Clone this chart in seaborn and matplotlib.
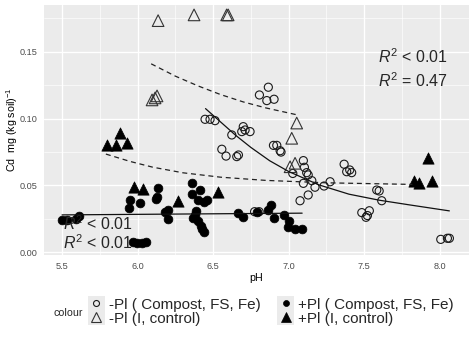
import numpy as np
import pandas as pd
import matplotlib
matplotlib.use("Agg")
import matplotlib.pyplot as plt
import seaborn as sns
from matplotlib.lines import Line2D
from matplotlib.patches import Rectangle

# ---------------- data ----------------
ph_minus_compost = [6.447, 6.480, 6.513, 6.624, 6.558, 6.586, 6.657, 6.668, 6.700, 6.690,
                    6.712, 6.745, 6.866, 6.807, 6.856, 6.904, 6.900, 6.922, 6.944, 6.950,
                    7.098, 7.105, 7.120, 7.130, 7.028, 7.098, 7.154, 7.175, 7.130, 7.076,
                    7.235, 7.275, 7.368, 7.385, 7.405, 7.418, 7.584, 7.600, 7.617, 7.485,
                    7.513, 7.535, 7.522, 8.008, 8.052, 8.065, 6.775, 6.805]
cd_minus_compost = [0.0995, 0.0995, 0.0985, 0.0878, 0.0771, 0.0720, 0.0716, 0.0728, 0.0940, 0.0903,
                    0.0915, 0.0903, 0.1235, 0.1177, 0.1135, 0.1145, 0.0800, 0.0800, 0.0760, 0.0750,
                    0.0686, 0.0636, 0.0596, 0.0579, 0.0590, 0.0516, 0.0536, 0.0487, 0.0429, 0.0386,
                    0.0496, 0.0528, 0.0659, 0.0603, 0.0616, 0.0596, 0.0466, 0.0459, 0.0386, 0.0297,
                    0.0262, 0.0311, 0.0275, 0.0097, 0.0105, 0.0105, 0.0304, 0.0304]

ph_minus_control = [6.136, 6.374, 6.590, 6.600, 6.096, 6.116, 6.129, 7.054, 7.021, 7.010, 7.043]
cd_minus_control = [0.1733, 0.1776, 0.1776, 0.1776, 0.1140, 0.1155, 0.1170, 0.0967, 0.0853, 0.0640, 0.0666]

ph_plus_compost = [5.500, 5.530, 5.590, 5.610, 5.950, 5.944, 6.017, 6.127, 6.138, 6.120,
                   5.972, 5.999, 6.028, 6.054, 6.182, 6.204, 6.204, 6.359, 6.414, 6.359,
                   6.400, 6.460, 6.440, 6.388, 6.368, 6.400, 6.421, 6.440, 6.430, 6.380,
                   6.663, 6.700, 6.790, 6.866, 6.884, 6.906, 6.972, 7.003, 6.994, 7.043, 7.091]
cd_plus_compost = [0.0240, 0.0240, 0.0250, 0.0270, 0.0390, 0.0330, 0.0367, 0.0416, 0.0479, 0.0397,
                   0.0079, 0.0070, 0.0070, 0.0080, 0.0304, 0.0317, 0.0247, 0.0516, 0.0466, 0.0439,
                   0.0390, 0.0390, 0.0377, 0.0310, 0.0257, 0.0234, 0.0197, 0.0151, 0.0175, 0.0280,
                   0.0297, 0.0267, 0.0300, 0.0317, 0.0354, 0.0254, 0.0279, 0.0237, 0.0187, 0.0172, 0.0172]

ph_plus_control = [5.884, 5.796, 5.858, 5.928, 5.977, 6.034, 6.270, 6.535, 7.926, 7.830, 7.866, 7.948]
cd_plus_control = [0.0895, 0.0803, 0.0803, 0.0816, 0.0491, 0.0472, 0.0386, 0.0454, 0.0703, 0.0536, 0.0521, 0.0534]

# fitted curves
fit_minus_compost_ph = [6.45, 6.55, 6.65, 6.75, 6.875, 7.0, 7.2, 7.4, 7.6, 7.8, 8.065]
fit_minus_compost_cd = [0.1075, 0.0975, 0.0875, 0.0785, 0.0685, 0.0605, 0.0505, 0.0435, 0.039, 0.0355, 0.031]
fit_minus_control_ph = [6.09, 6.25, 6.40, 6.55, 6.70, 6.85, 7.05]
fit_minus_control_cd = [0.1410, 0.1318, 0.1245, 0.1180, 0.1125, 0.1080, 0.1030]
fit_plus_compost_ph = [5.50, 7.09]
fit_plus_compost_cd = [0.0280, 0.0293]
fit_plus_control_ph = [5.79, 5.95, 6.10, 6.30, 6.55, 6.85, 7.25, 7.82]
fit_plus_control_cd = [0.0735, 0.0680, 0.0637, 0.0595, 0.0562, 0.0538, 0.0520, 0.0508]

labels = ["-Pl ( Compost, FS, Fe)", "-Pl (I, control)",
          "+Pl ( Compost, FS, Fe)", "+Pl (I, control)"]
x_ticks = [5.5, 6.0, 6.5, 7.0, 7.5, 8.0]
x_ticklabels = ["5.5", "6.0", "6.5", "7.0", "7.5", "8.0"]
y_ticks = [0.00, 0.05, 0.10, 0.15]
y_ticklabels = ["0.00", "0.05", "0.10", "0.15"]

df = pd.concat([
    pd.DataFrame({"pH": ph_minus_compost, "Cd": cd_minus_compost, "colour": labels[0]}),
    pd.DataFrame({"pH": ph_minus_control, "Cd": cd_minus_control, "colour": labels[1]}),
    pd.DataFrame({"pH": ph_plus_compost, "Cd": cd_plus_compost, "colour": labels[2]}),
    pd.DataFrame({"pH": ph_plus_control, "Cd": cd_plus_control, "colour": labels[3]}),
], ignore_index=True)

# ---------------- style ----------------
sns.set_theme(style="darkgrid", rc={"axes.facecolor": "#EBEBEB", "grid.color": "white"})
plt.rcParams["font.family"] = ["Liberation Sans", "DejaVu Sans"]
plt.rcParams["mathtext.fontset"] = "custom"
plt.rcParams["mathtext.rm"] = "Liberation Sans"
plt.rcParams["mathtext.it"] = "Liberation Sans:italic"
plt.rcParams["mathtext.bf"] = "Liberation Sans:bold"

W, H = 474, 338
fig = plt.figure(figsize=(W / 100, H / 100), dpi=100)
ax = fig.add_axes([43.5 / W, 1 - 255 / H, (468.7 - 43.5) / W, 250 / H])
ax.set_facecolor("#EBEBEB")
for s in ax.spines.values():
    s.set_visible(False)

styles = {
    labels[0]: dict(marker="o", s=34, open=True, ec="#1a1a1a"),
    labels[1]: dict(marker="^", s=70, open=True, ec="#333333"),
    labels[2]: dict(marker="o", s=40, open=False, ec="black"),
    labels[3]: dict(marker="^", s=66, open=False, ec="black"),
}
for lab in labels:
    st = styles[lab]
    sub = df[df["colour"] == lab]
    sns.scatterplot(data=sub, x="pH", y="Cd", marker=st["marker"], s=st["s"],
                    color="black", edgecolor="black", linewidth=0.8,
                    ax=ax, legend=False, zorder=3)
    coll = ax.collections[-1]
    if st["open"]:
        coll.set_facecolor("none")
        coll.set_edgecolor(st["ec"])
        coll.set_linewidth(0.8)
    else:
        coll.set_facecolor("black")
        coll.set_edgecolor("black")
        coll.set_linewidth(0.5)

dash = (0, (4.0, 3.0))
sns.lineplot(x=fit_minus_compost_ph, y=fit_minus_compost_cd, ax=ax, color="#111111",
             linewidth=0.9, errorbar=None, zorder=4)
sns.lineplot(x=fit_plus_compost_ph, y=fit_plus_compost_cd, ax=ax, color="#111111",
             linewidth=0.9, errorbar=None, zorder=4)
sns.lineplot(x=fit_minus_control_ph, y=fit_minus_control_cd, ax=ax, color="#222222",
             linewidth=0.9, linestyle=dash, errorbar=None, zorder=4)
sns.lineplot(x=fit_plus_control_ph, y=fit_plus_control_cd, ax=ax, color="#222222",
             linewidth=0.9, linestyle=dash, errorbar=None, zorder=4)

ax.set_xlim(5.377, 8.193)
ax.set_ylim(-0.002, 0.185)
ax.set_xticks(x_ticks)
ax.set_xticklabels(x_ticklabels)
ax.set_yticks(y_ticks)
ax.set_yticklabels(y_ticklabels)
ax.set_xticks([5.75, 6.25, 6.75, 7.25, 7.75], minor=True)
ax.set_yticks([0.025, 0.075, 0.125, 0.175], minor=True)
ax.grid(which="major", color="white", linewidth=0.95)
ax.grid(which="minor", color="white", linewidth=0.45)
ax.set_axisbelow(True)
ax.tick_params(which="major", length=2.5, width=0.7, color="#333333",
               labelsize=6.6, labelcolor="#4D4D4D", pad=1.5)
ax.tick_params(which="minor", length=0)
ax.tick_params(axis="x", which="major", pad=2.5)

ax.set_xlabel("pH", fontsize=7.7, labelpad=1.5, color="black")
ax.set_ylabel(r"Cd  mg (kg soil)$^{-1}$", fontsize=7.7, labelpad=0, color="black")

# R^2 annotations
ax.text(7.593, 0.1462, r"$R^2$ < 0.01", fontsize=11.5, ha="left", va="center", zorder=5)
ax.text(7.593, 0.1282, r"$R^2$ = 0.47", fontsize=11.5, ha="left", va="center", zorder=5)
ax.text(5.507, 0.0213, r"$R^2$ < 0.01", fontsize=11.5, ha="left", va="center", zorder=5)
ax.text(5.507, 0.0072, r"$R^2$ < 0.01", fontsize=11.5, ha="left", va="center", zorder=5)

# legend
handles = [
    Line2D([], [], ls="", marker="o", ms=4.3, mfc="none", mec="#1a1a1a", mew=0.8),
    Line2D([], [], ls="", marker="^", ms=7.0, mfc="none", mec="#333333", mew=0.8),
    Line2D([], [], ls="", marker="o", ms=4.3, mfc="black", mec="black", mew=0.5),
    Line2D([], [], ls="", marker="^", ms=7.0, mfc="black", mec="black", mew=0.5),
]
leg = fig.legend(handles, labels, ncol=2, loc="center left",
                 bbox_to_anchor=(88 / W, 1 - 311.7 / H), frameon=False,
                 fontsize=11, handlelength=1.1, handletextpad=0.25,
                 columnspacing=1.1, labelspacing=0.0, borderpad=0, borderaxespad=0)
fig.text(53 / W, 1 - 313 / H, "colour", fontsize=7.7, ha="left", va="center")

fig.canvas.draw()
renderer = fig.canvas.get_renderer()
for h in leg.legend_handles:
    bb = h.get_window_extent(renderer)
    cx, cy = (bb.x0 + bb.x1) / 2, (bb.y0 + bb.y1) / 2
    fig.add_artist(Rectangle(((cx - 8.5) / W, (cy - 7.5) / H), 17 / W, 15 / H,
                             transform=fig.transFigure, facecolor="#EBEBEB",
                             edgecolor="none", zorder=1))

fig.savefig("out.png", dpi=100)
